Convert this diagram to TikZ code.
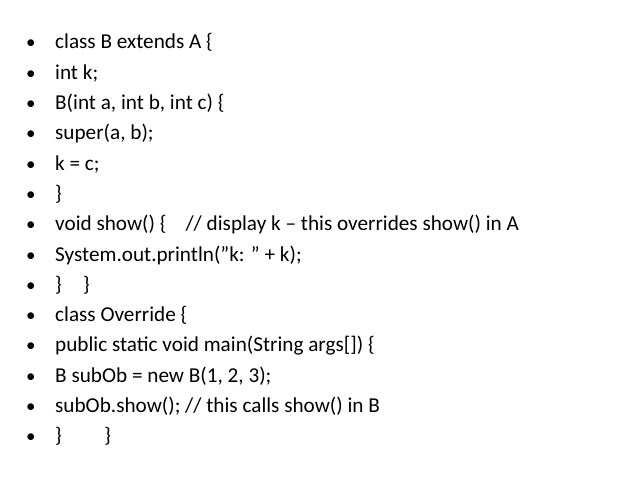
\documentclass[tikz,border=0pt]{standalone}
\usepackage{fontspec}
\setmainfont{Carlito}
\tikzset{
  codeline/.style={anchor=base west,inner sep=0pt,font=\fontsize{21.2}{24}\selectfont},
  dot/.style={anchor=base west,inner sep=0pt,font=\fontsize{19}{22}\selectfont}
}
\begin{document}
\begin{tikzpicture}[x=1pt,y=-1pt]
  \useasboundingbox[fill=white] (0,0) rectangle (638,478);

  %% bullets
  \foreach \i in {0,...,13}
    \node[dot] (b\i) at (26,49+30.3*\i) {•};

  %% code lines
  \node[codeline] (l1) at (55,49) {class B extends A \{};
  \node[codeline] (l2) at (55,79.3) {int k;};
  \node[codeline] (l3) at (55,109.6) {B(int a, int b, int c) \{};
  \node[codeline] (l4) at (55,139.9) {super(a, b);};
  \node[codeline] (l5) at (55,170.2) {k = c;};
  \node[codeline] (l6) at (55,200.5) {\}};
  \node[codeline] (l7) at (55,230.8) {void show() \{\hspace{0.9em}// display k – this overrides show() in A};
  \node[codeline] (l8) at (55,261.1) {System.out.println(\symbol{34}k: \symbol{34} + k);};
  \node[codeline] (l9) at (55,291.4) {\}\hspace{1em}\}};
  \node[codeline] (l10) at (55,321.7) {class Override \{};
  \node[codeline] (l11) at (55,352) {public static void main(String args[]) \{};
  \node[codeline] (l12) at (55,382.3) {B subOb = new B(1, 2, 3);};
  \node[codeline] (l13) at (55,412.6) {subOb.show(); // this calls show() in B};
  \node[codeline] (l14) at (55,442.9) {\}\hspace{2em}\}};
\end{tikzpicture}
\end{document}
